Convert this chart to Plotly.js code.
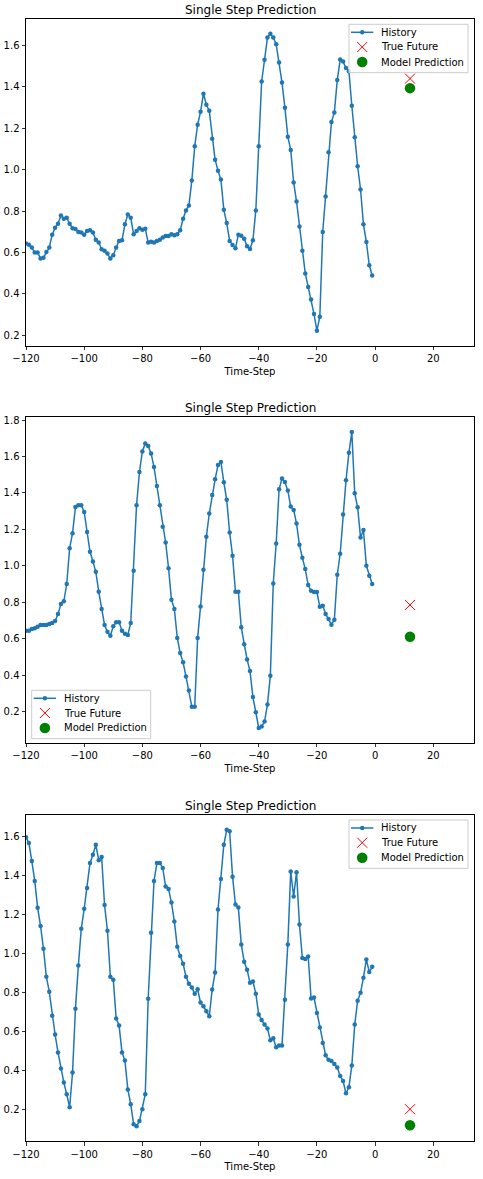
<!DOCTYPE html>
<html>
<head>
<meta charset="utf-8">
<script src="https://cdn.plot.ly/plotly-3.0.1.min.js"></script>
<style>html,body{margin:0;padding:0;background:#fff;}#chart{width:483px;height:1179px;}</style>
</head>
<body>
<div id="chart"></div>
<script>
// ---- data ----
var historySize = 120;
var futureStep = 12;
var timeSteps = [];
for (var i = -historySize; i < 0; i++) timeSteps.push(i);

var history1 = [
  0.643, 0.638, 0.624, 0.600, 0.600, 0.571, 0.575, 0.603, 0.624, 0.686,
  0.720, 0.739, 0.779, 0.763, 0.768, 0.739, 0.717, 0.713, 0.699, 0.696,
  0.686, 0.704, 0.707, 0.696, 0.662, 0.648, 0.616, 0.608, 0.595, 0.571,
  0.587, 0.624, 0.656, 0.659, 0.736, 0.784, 0.768, 0.688, 0.704, 0.717,
  0.710, 0.715, 0.648, 0.652, 0.648, 0.656, 0.662, 0.672, 0.680, 0.680,
  0.688, 0.683, 0.688, 0.707, 0.763, 0.803, 0.827, 0.947, 1.113, 1.217,
  1.279, 1.366, 1.313, 1.284, 1.149, 1.048, 0.995, 0.952, 0.806, 0.742,
  0.656, 0.636, 0.620, 0.686, 0.681, 0.667, 0.630, 0.617, 0.659, 0.803,
  1.113, 1.425, 1.530, 1.637, 1.655, 1.637, 1.605, 1.517, 1.420, 1.298,
  1.159, 1.095, 0.938, 0.846, 0.726, 0.608, 0.499, 0.434, 0.373, 0.303,
  0.223, 0.290, 0.699, 0.870, 1.084, 1.230, 1.276, 1.432, 1.531, 1.521,
  1.490, 1.475, 1.308, 1.156, 1.016, 0.904, 0.736, 0.651, 0.539, 0.489
];
var history2 = [
  0.644, 0.644, 0.653, 0.657, 0.666, 0.675, 0.675, 0.675, 0.680, 0.686,
  0.697, 0.735, 0.790, 0.805, 0.900, 1.097, 1.179, 1.323, 1.332, 1.332,
  1.296, 1.186, 1.077, 1.024, 0.967, 0.858, 0.763, 0.675, 0.638, 0.616,
  0.668, 0.690, 0.690, 0.644, 0.627, 0.620, 0.686, 0.973, 1.332, 1.515,
  1.628, 1.672, 1.658, 1.617, 1.542, 1.438, 1.332, 1.214, 1.128, 0.987,
  0.814, 0.763, 0.604, 0.521, 0.470, 0.392, 0.315, 0.226, 0.226, 0.604,
  0.777, 0.978, 1.159, 1.287, 1.389, 1.475, 1.553, 1.570, 1.458, 1.362,
  1.183, 1.055, 0.858, 0.858, 0.662, 0.569, 0.485, 0.423, 0.279, 0.196,
  0.110, 0.118, 0.145, 0.238, 0.397, 0.903, 1.122, 1.420, 1.479, 1.460,
  1.413, 1.325, 1.307, 1.232, 1.115, 1.044, 0.982, 0.894, 0.863, 0.856,
  0.856, 0.775, 0.781, 0.735, 0.708, 0.677, 0.704, 0.951, 1.066, 1.281,
  1.469, 1.621, 1.734, 1.398, 1.321, 1.155, 1.196, 1.000, 0.945, 0.900
];
var history3 = [
  1.597, 1.568, 1.475, 1.373, 1.235, 1.142, 1.025, 0.881, 0.804, 0.681,
  0.584, 0.492, 0.410, 0.338, 0.277, 0.210, 0.389, 0.717, 0.938, 1.127,
  1.230, 1.337, 1.465, 1.508, 1.559, 1.480, 1.496, 1.250, 1.117, 0.881,
  0.866, 0.666, 0.630, 0.492, 0.451, 0.302, 0.226, 0.123, 0.113, 0.139,
  0.200, 0.277, 0.768, 1.107, 1.373, 1.465, 1.465, 1.440, 1.344, 1.332,
  1.262, 1.165, 1.035, 0.987, 0.948, 0.881, 0.845, 0.825, 0.794, 0.816,
  0.748, 0.729, 0.704, 0.678, 0.815, 0.902, 1.226, 1.383, 1.559, 1.636,
  1.629, 1.395, 1.252, 1.236, 1.047, 0.958, 0.917, 0.850, 0.857, 0.794,
  0.687, 0.658, 0.635, 0.615, 0.555, 0.565, 0.518, 0.528, 0.528, 0.763,
  1.047, 1.421, 1.293, 1.418, 1.149, 0.977, 0.972, 0.985, 0.769, 0.774,
  0.695, 0.620, 0.540, 0.477, 0.454, 0.448, 0.432, 0.415, 0.371, 0.345,
  0.282, 0.313, 0.425, 0.635, 0.758, 0.799, 0.876, 0.970, 0.905, 0.932
];
var trueFuture = [1.439, 0.785, 0.200];
var modelPrediction = [1.393, 0.610, 0.118];
var histories = [history1, history2, history3];
var xTicks = [-120, -100, -80, -60, -40, -20, 0, 20];
var seriesNames = ["History", "True Future", "Model Prediction"];
var titles = ["Single Step Prediction", "Single Step Prediction", "Single Step Prediction"];

// ---- layout ----
var FONT = "DejaVu Sans";
var W = 483, H = 1179, ML = 26, MR = 9, MT = 19, MB = 38;
var PW = W - ML - MR, PH = H - MT - MB;
function PX(px) { return (px - ML) / PW; }
function PY(py) { return (H - MB - py) / PH; }

var domains = [[0.709, 1.0], [0.355, 0.645], [0.0, 0.2906]];
// legend box top-left corner in pixels
var legendBoxes = [[349, 24.3], [31.7, 690.3], [349, 820]];

var BLUE = "#1f77b4", RED = "#ff0000", GREEN = "#008000";

function mplRange(vals) {
  var mn = Math.min.apply(null, vals), mx = Math.max.apply(null, vals);
  var m = (mx - mn) * 0.05;
  return [mn - m, mx + m];
}

var traces = [];
var layout = {
  width: W, height: H,
  margin: {l: ML, r: MR, t: MT, b: MB, pad: 0},
  paper_bgcolor: "#fff", plot_bgcolor: "#fff",
  font: {family: FONT, size: 10, color: "#000"},
  showlegend: false,
  annotations: [],
  shapes: []
};

function addLegend(left, top) {
  var w = 119, h = 48.4;
  var rows = [top + 8, top + 22.7, top + 37.7];
  var hx = left + 13.2;
  layout.shapes.push({type: "rect", xref: "paper", yref: "paper", layer: "above",
    x0: PX(left), x1: PX(left + w), y0: PY(top + h), y1: PY(top),
    fillcolor: "rgba(255,255,255,0.8)", line: {color: "#cccccc", width: 1}});
  // History handle
  layout.shapes.push({type: "line", xref: "paper", yref: "paper", layer: "above",
    x0: PX(left + 2), x1: PX(left + 24.3), y0: PY(rows[0]), y1: PY(rows[0]),
    line: {color: BLUE, width: 1.5}});
  layout.shapes.push({type: "circle", xref: "paper", yref: "paper", layer: "above",
    x0: PX(hx - 2.2), x1: PX(hx + 2.2), y0: PY(rows[0] + 2.2), y1: PY(rows[0] - 2.2),
    fillcolor: BLUE, line: {color: BLUE, width: 0}});
  // True Future handle (x)
  layout.shapes.push({type: "line", xref: "paper", yref: "paper", layer: "above",
    x0: PX(hx - 5), x1: PX(hx + 5), y0: PY(rows[1] - 5), y1: PY(rows[1] + 5),
    line: {color: RED, width: 1}});
  layout.shapes.push({type: "line", xref: "paper", yref: "paper", layer: "above",
    x0: PX(hx - 5), x1: PX(hx + 5), y0: PY(rows[1] + 5), y1: PY(rows[1] - 5),
    line: {color: RED, width: 1}});
  // Model Prediction handle
  layout.shapes.push({type: "circle", xref: "paper", yref: "paper", layer: "above",
    x0: PX(hx - 5.3), x1: PX(hx + 5.3), y0: PY(rows[2] + 5.3), y1: PY(rows[2] - 5.3),
    fillcolor: GREEN, line: {color: GREEN, width: 0}});
  for (var r = 0; r < 3; r++) {
    layout.annotations.push({text: seriesNames[r], xref: "paper", yref: "paper",
      x: PX(left + 31), y: PY(rows[r]), xanchor: "left", yanchor: "middle",
      showarrow: false, borderpad: 0,
      font: {family: FONT, size: 10, color: "#000"}});
  }
}

for (var k = 0; k < 3; k++) {
  var s = k === 0 ? "" : String(k + 1);
  traces.push({
    x: timeSteps, y: histories[k], type: "scatter", mode: "lines+markers",
    name: seriesNames[0], xaxis: "x" + s, yaxis: "y" + s,
    line: {color: BLUE, width: 1.5},
    marker: {color: BLUE, size: 4.5}
  });
  traces.push({
    x: [futureStep], y: [trueFuture[k]], type: "scatter", mode: "markers",
    name: seriesNames[1], xaxis: "x" + s, yaxis: "y" + s,
    marker: {symbol: "x-thin", size: 10, line: {color: RED, width: 1}, color: RED}
  });
  traces.push({
    x: [futureStep], y: [modelPrediction[k]], type: "scatter", mode: "markers",
    name: seriesNames[2], xaxis: "x" + s, yaxis: "y" + s,
    marker: {symbol: "circle", size: 10.5, color: GREEN}
  });

  var allVals = histories[k].concat([trueFuture[k], modelPrediction[k]]);
  var yr = mplRange(allVals);
  var common = {
    showline: true, mirror: true, linecolor: "#000", linewidth: 1,
    ticks: "outside", ticklen: 3.5, tickwidth: 0.8, tickcolor: "#000",
    showgrid: false, zeroline: false,
    tickfont: {family: FONT, size: 10, color: "#000"}
  };
  layout["xaxis" + s] = Object.assign({}, common, {
    domain: [0, 1], anchor: "y" + s, range: [-120, 34],
    tickmode: "array", tickvals: xTicks,
    title: {text: "Time-Step", font: {family: FONT, size: 10, color: "#000"}, standoff: 4}
  });
  layout["yaxis" + s] = Object.assign({}, common, {
    domain: domains[k], anchor: "x" + s, range: yr,
    tickmode: "linear", tick0: 0, dtick: 0.2, tickformat: ".1f"
  });
  layout.annotations.push({
    text: titles[k], xref: "paper", yref: "paper", x: 0.5, y: domains[k][1],
    xanchor: "center", yanchor: "bottom", yshift: 0, showarrow: false,
    font: {family: FONT, size: 12, color: "#000"}
  });
  addLegend(legendBoxes[k][0], legendBoxes[k][1]);
}

Plotly.newPlot("chart", traces, layout, {displayModeBar: false, staticPlot: true});
</script>
</body>
</html>
